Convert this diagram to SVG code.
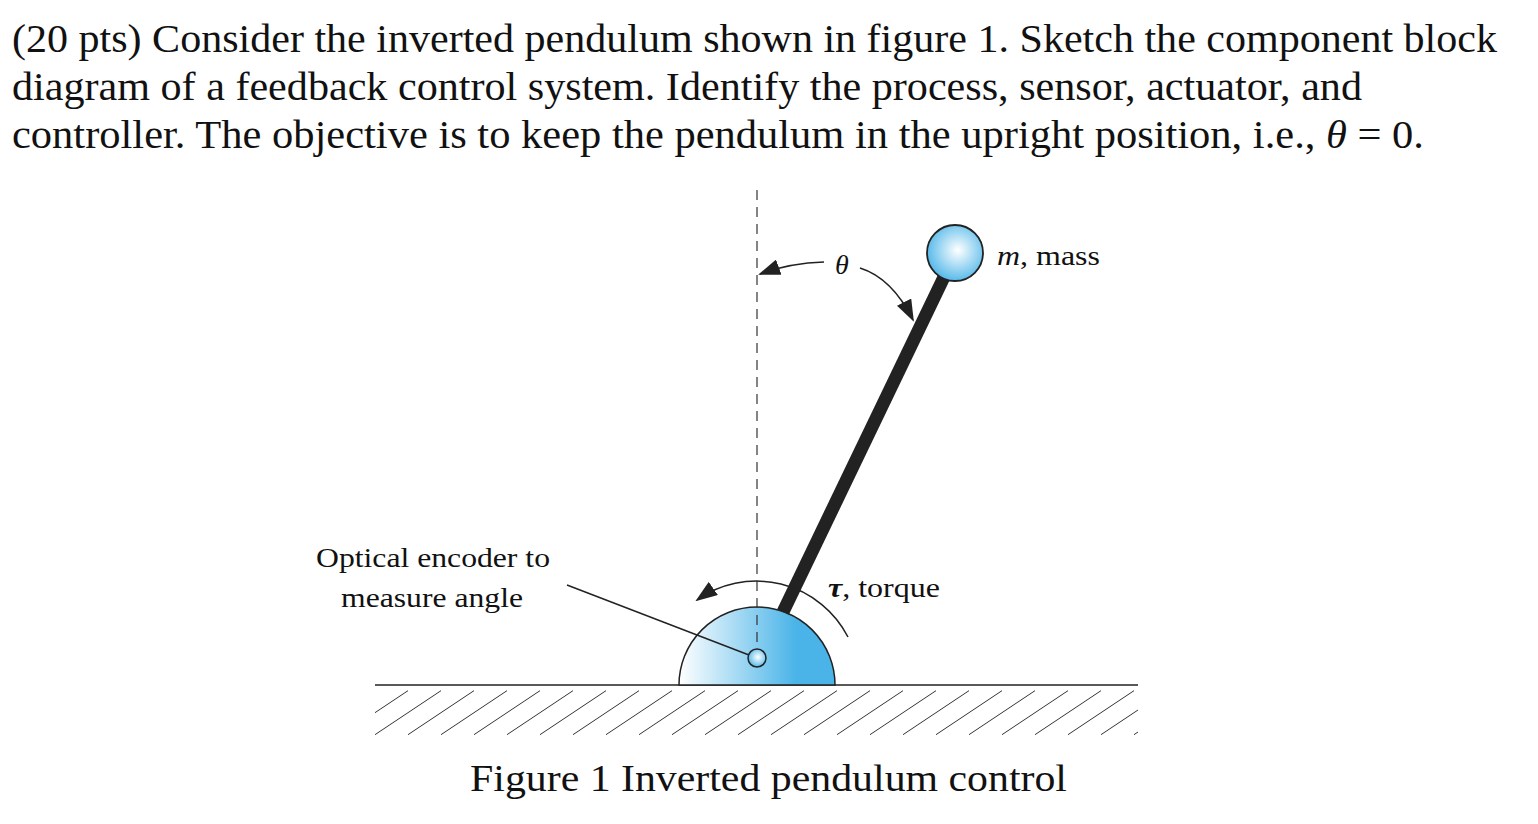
<svg xmlns="http://www.w3.org/2000/svg" width="1538" height="824" viewBox="0 0 1538 824">
<defs>
<radialGradient id="ball" cx="0.55" cy="0.45" r="0.6"><stop offset="0" stop-color="#ffffff"/><stop offset="1" stop-color="#4ab4e8"/></radialGradient>
<linearGradient id="base" x1="0" x2="1" y1="0" y2="0"><stop offset="0" stop-color="#ffffff"/><stop offset="0.75" stop-color="#4ab4e8"/></linearGradient>
<marker id="ah" markerWidth="22" markerHeight="16" refX="20" refY="8" orient="auto" markerUnits="userSpaceOnUse"><path d="M0,0 L22,8 L0,16 Z" fill="#222"/></marker>
<pattern id="hatch" width="33" height="50" patternUnits="userSpaceOnUse" x="375" y="686"><path d="M-35,50 L40,0 M-2,50 L73,0" stroke="#333" stroke-width="1"/></pattern>
</defs>
<style>
.t{font-family:"Liberation Serif",serif;fill:#111}
.s{fill:none;stroke:#222;stroke-width:1.5}
</style>
<g id="title" class="t" font-size="39">
<text x="12" y="52" textLength="1485" lengthAdjust="spacingAndGlyphs">(20 pts) Consider the inverted pendulum shown in figure 1. Sketch the component block</text>
<text x="12" y="100" textLength="1350" lengthAdjust="spacingAndGlyphs">diagram of a feedback control system. Identify the process, sensor, actuator, and</text>
<text x="12" y="148" textLength="1412" lengthAdjust="spacingAndGlyphs">controller. The objective is to keep the pendulum in the upright position, i.e., <tspan font-style="italic">θ</tspan> = 0.</text>
</g>
<g id="ground">
<rect x="375" y="686" width="763" height="50" fill="url(#hatch)"/>
<line x1="375" y1="685" x2="1138" y2="685" stroke="#222" stroke-width="1.5"/>
</g>
<g id="base-node">
<path d="M679,685 A78,78 0 0 1 835,685 Z" fill="url(#base)" stroke="#222" stroke-width="1.5"/>
</g>
<line x1="757" y1="190" x2="757" y2="658" stroke="#333" stroke-width="1.2" stroke-dasharray="10,7"/>
<g id="rod"><line x1="783" y1="612" x2="945" y2="275" stroke="#222" stroke-width="13"/></g>
<g id="mass"><circle cx="955" cy="253" r="28" fill="url(#ball)" stroke="#222" stroke-width="1.8"/></g>
<g id="pivot"><circle cx="757" cy="658" r="9" fill="url(#ball)" stroke="#222" stroke-width="1.5"/></g>
<g id="connectors">
<line x1="567" y1="585" x2="749" y2="655" class="s"/>
<path d="M824,262 Q790,263 760,274" class="s" marker-end="url(#ah)"/>
<path d="M860,268 Q892,278 913,320" class="s" marker-end="url(#ah)"/>
<path d="M848,637 A103,103 0 0 0 697,600" class="s" marker-end="url(#ah)"/>
</g>
<g id="labels" class="t">
<text x="842" y="274" font-size="28" font-style="italic" text-anchor="middle">θ</text>
<text x="997" y="265" font-size="28" textLength="103" lengthAdjust="spacingAndGlyphs"><tspan font-style="italic">m</tspan>, mass</text>
<text x="828" y="597" font-size="28" textLength="112" lengthAdjust="spacingAndGlyphs"><tspan font-weight="bold" font-style="italic">τ</tspan>, torque</text>
<text x="316" y="567" font-size="28" textLength="234" lengthAdjust="spacingAndGlyphs">Optical encoder to</text>
<text x="341" y="607" font-size="28" textLength="182" lengthAdjust="spacingAndGlyphs">measure angle</text>
<text x="470" y="791" font-size="38" textLength="597" lengthAdjust="spacingAndGlyphs">Figure 1 Inverted pendulum control</text>
</g>
</svg>
